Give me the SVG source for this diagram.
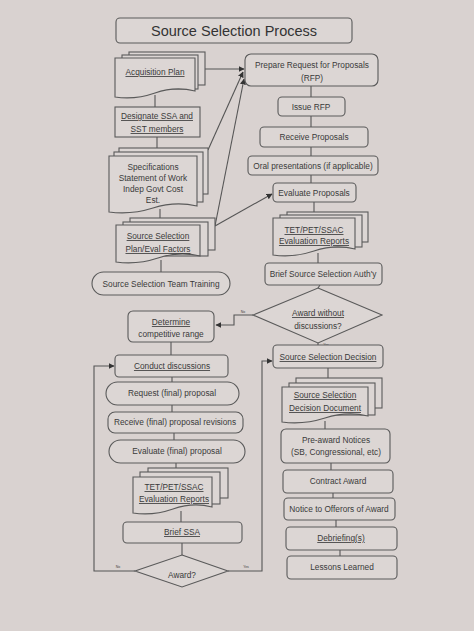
<svg xmlns="http://www.w3.org/2000/svg" width="474" height="631" viewBox="0 0 474 631">
<defs>
<marker id="arr" viewBox="0 0 10 10" refX="9" refY="5" markerWidth="6" markerHeight="6" orient="auto-start-reverse" markerUnits="userSpaceOnUse"><path d="M0,0 L10,5 L0,10 z" fill="#333"/></marker>
<style>
.b{fill:#dcd6d4;stroke:#5a5a5a;stroke-width:1.1}
.c{fill:none;stroke:#555;stroke-width:1.1}
.t{font-family:"Liberation Sans",Arial,sans-serif;font-size:8.3px;fill:#3a3a3a;text-anchor:middle}
.u{text-decoration:underline}
.s{font-family:"Liberation Sans",Arial,sans-serif;font-size:3.5px;fill:#444;text-anchor:middle}
</style>
</defs>
<rect width="474" height="631" fill="#d9d2d0"/>

<g id="connectors">
<path class="c" d="M155,95 V107"/>
<path class="c" d="M157,137 V149"/>
<path class="c" d="M160,209 V219"/>
<path class="c" d="M161,260 V272"/>
<path class="c" d="M205,69 H244" marker-end="url(#arr)"/>
<path class="c" d="M208,150 L243,72" marker-end="url(#arr)"/>
<path class="c" d="M215,226 L244,79" marker-end="url(#arr)"/>
<path class="c" d="M215,226 L272,194" marker-end="url(#arr)"/>
<path class="c" d="M311,86 V97 M311,116 V127 M311,147 V156 M311,175 V183"/>
<path class="c" d="M314,202 V212"/>
<path class="c" d="M318,253 V263"/>
<path class="c" d="M320,285 L318,288"/>
<path class="c" d="M253,315 H234 V325 H216" marker-end="url(#arr)"/>
<path class="c" d="M318,343 V345"/>
<path class="c" d="M171,342 V355"/>
<path class="c" d="M172,377 V382 M172,405 V412 M174,433 V440 M176,463 V468"/>
<path class="c" d="M181,511 V522"/>
<path class="c" d="M182,543 V555"/>
<path class="c" d="M135,571 H94 V366 H114" marker-end="url(#arr)"/>
<path class="c" d="M228,571 H262 V361 H272" marker-end="url(#arr)"/>
<path class="c" d="M328,368 V378"/>
<path class="c" d="M325,421 V429"/>
<path class="c" d="M331,463 V470"/>
<path class="c" d="M333,493 V498"/>
<path class="c" d="M336,520 V527"/>
<path class="c" d="M340,550 V556"/>
</g>

<g id="title">
<rect class="b" x="116" y="18" width="236" height="25" rx="4"/>
<text x="234" y="36" style="font-family:'Liberation Sans',Arial,sans-serif;font-size:14.5px;fill:#333;text-anchor:middle">Source Selection Process</text>
</g>

<g id="acquisition-plan">
<rect class="b" x="129" y="52" width="76" height="33"/>
<rect class="b" x="122" y="55" width="76" height="34"/>
<path class="b" d="M115,58 H195 V91 Q175,86 155,93 T115,97 Z"/>
<text class="t u" x="155" y="75">Acquisition Plan</text>
</g>

<g id="designate">
<rect class="b" x="115" y="107" width="85" height="30"/>
<text class="t u" x="157" y="119">Designate SSA and</text>
<text class="t u" x="157" y="132">SST members</text>
</g>

<g id="specifications">
<rect class="b" x="119" y="148" width="89" height="46"/>
<rect class="b" x="114" y="152" width="89" height="50"/>
<path class="b" d="M109,156 H197 V206 Q175,201 153,208 T109,212 Z"/>
<text class="t" x="153" y="170">Specifications</text>
<text class="t" x="153" y="181">Statement of Work</text>
<text class="t" x="153" y="192">Indep Govt Cost</text>
<text class="t" x="153" y="203">Est.</text>
</g>

<g id="ss-plan">
<rect class="b" x="130" y="218" width="85" height="32"/>
<rect class="b" x="123" y="222" width="85" height="34"/>
<path class="b" d="M116,225 H200 V256 Q179,251 158,258 T116,262 Z"/>
<text class="t u" x="158" y="239">Source Selection</text>
<text class="t u" x="158" y="252">Plan/Eval Factors</text>
</g>

<g id="team-training">
<rect class="b" x="92" y="272" width="138" height="23" rx="11.5"/>
<text class="t" x="161" y="287">Source Selection Team Training</text>
</g>

<g id="prepare-rfp">
<rect class="b" x="245" y="54" width="133" height="32" rx="6"/>
<text class="t" x="312" y="68">Prepare Request for Proposals</text>
<text class="t" x="312" y="81">(RFP)</text>
</g>

<g id="issue-rfp">
<rect class="b" x="278" y="97" width="67" height="19" rx="4"/>
<text class="t" x="311" y="110">Issue RFP</text>
</g>

<g id="receive-proposals">
<rect class="b" x="260" y="127" width="108" height="20" rx="4"/>
<text class="t" x="314" y="140">Receive Proposals</text>
</g>

<g id="oral-presentations">
<rect class="b" x="248" y="156" width="130" height="19" rx="4"/>
<text class="t" x="313" y="169">Oral presentations (if applicable)</text>
</g>

<g id="evaluate-proposals">
<rect class="b" x="273" y="183" width="83" height="19" rx="4"/>
<text class="t" x="314" y="196">Evaluate Proposals</text>
</g>

<g id="tet-reports-1">
<rect class="b" x="287" y="212" width="81" height="30"/>
<rect class="b" x="280" y="215" width="82" height="32"/>
<path class="b" d="M273,218 H355 V249 Q335,244 314,251 T273,255 Z"/>
<text class="t u" x="314" y="233">TET/PET/SSAC</text>
<text class="t u" x="314" y="244">Evaluation Reports</text>
</g>

<g id="brief-ssa-1">
<rect class="b" x="265" y="263" width="117" height="22" rx="4"/>
<text class="t" x="323" y="277">Brief Source Selection Auth'y</text>
</g>

<g id="award-without">
<path class="b" d="M318,288 L382,315 L318,343 L253,315 Z"/>
<text class="t u" x="318" y="316">Award without</text>
<text class="t" x="318" y="329">discussions?</text>
<text class="s" x="243" y="313">No</text>
<text class="s" x="326" y="346">Yes</text>
</g>

<g id="determine">
<rect class="b" x="128" y="311" width="86" height="31" rx="5"/>
<text class="t u" x="171" y="325">Determine</text>
<text class="t" x="171" y="337">competitive range</text>
</g>

<g id="conduct-discussions">
<rect class="b" x="115" y="355" width="113" height="22" rx="4"/>
<text class="t u" x="172" y="369">Conduct discussions</text>
</g>

<g id="request-final">
<rect class="b" x="106" y="382" width="133" height="23" rx="11.5"/>
<text class="t" x="172" y="396">Request (final) proposal</text>
</g>

<g id="receive-final">
<rect class="b" x="108" y="412" width="135" height="21" rx="7"/>
<text class="t" x="175" y="425">Receive (final) proposal revisions</text>
</g>

<g id="evaluate-final">
<rect class="b" x="109" y="440" width="136" height="23" rx="11.5"/>
<text class="t" x="177" y="454">Evaluate (final) proposal</text>
</g>

<g id="tet-reports-2">
<rect class="b" x="148" y="468" width="80" height="30"/>
<rect class="b" x="140" y="472" width="80" height="32"/>
<path class="b" d="M133,477 H212 V507 Q193,502 173,509 T133,513 Z"/>
<text class="t u" x="174" y="490">TET/PET/SSAC</text>
<text class="t u" x="174" y="502">Evaluation Reports</text>
</g>

<g id="brief-ssa-2">
<rect class="b" x="123" y="522" width="119" height="21" rx="4"/>
<text class="t u" x="182" y="535">Brief SSA</text>
</g>

<g id="award">
<path class="b" d="M182,555 L228,571 L182,587 L135,571 Z"/>
<text class="t" x="182" y="578">Award?</text>
<text class="s" x="118" y="568">No</text>
<text class="s" x="246" y="568">Yes</text>
</g>

<g id="ss-decision">
<rect class="b" x="273" y="345" width="110" height="23" rx="4"/>
<text class="t u" x="328" y="360">Source Selection Decision</text>
</g>

<g id="ss-decision-doc">
<rect class="b" x="296" y="378" width="86" height="30"/>
<rect class="b" x="289" y="383" width="86" height="32"/>
<path class="b" d="M282,387 H368 V416 Q347,411 325,418 T282,422 Z"/>
<text class="t u" x="325" y="398">Source Selection</text>
<text class="t u" x="325" y="411">Decision Document</text>
</g>

<g id="pre-award">
<rect class="b" x="281" y="429" width="109" height="34" rx="5"/>
<text class="t" x="336" y="443">Pre-award Notices</text>
<text class="t" x="336" y="455">(SB, Congressional, etc)</text>
</g>

<g id="contract-award">
<rect class="b" x="283" y="470" width="110" height="23" rx="4"/>
<text class="t" x="338" y="484">Contract Award</text>
</g>

<g id="notice-offerors">
<rect class="b" x="284" y="498" width="111" height="22" rx="4"/>
<text class="t" x="339" y="512">Notice to Offerors of Award</text>
</g>

<g id="debriefing">
<rect class="b" x="286" y="527" width="111" height="23" rx="4"/>
<text class="t u" x="341" y="541">Debriefing(s)</text>
</g>

<g id="lessons-learned">
<rect class="b" x="287" y="556" width="110" height="23" rx="4"/>
<text class="t" x="342" y="570">Lessons Learned</text>
</g>
</svg>
